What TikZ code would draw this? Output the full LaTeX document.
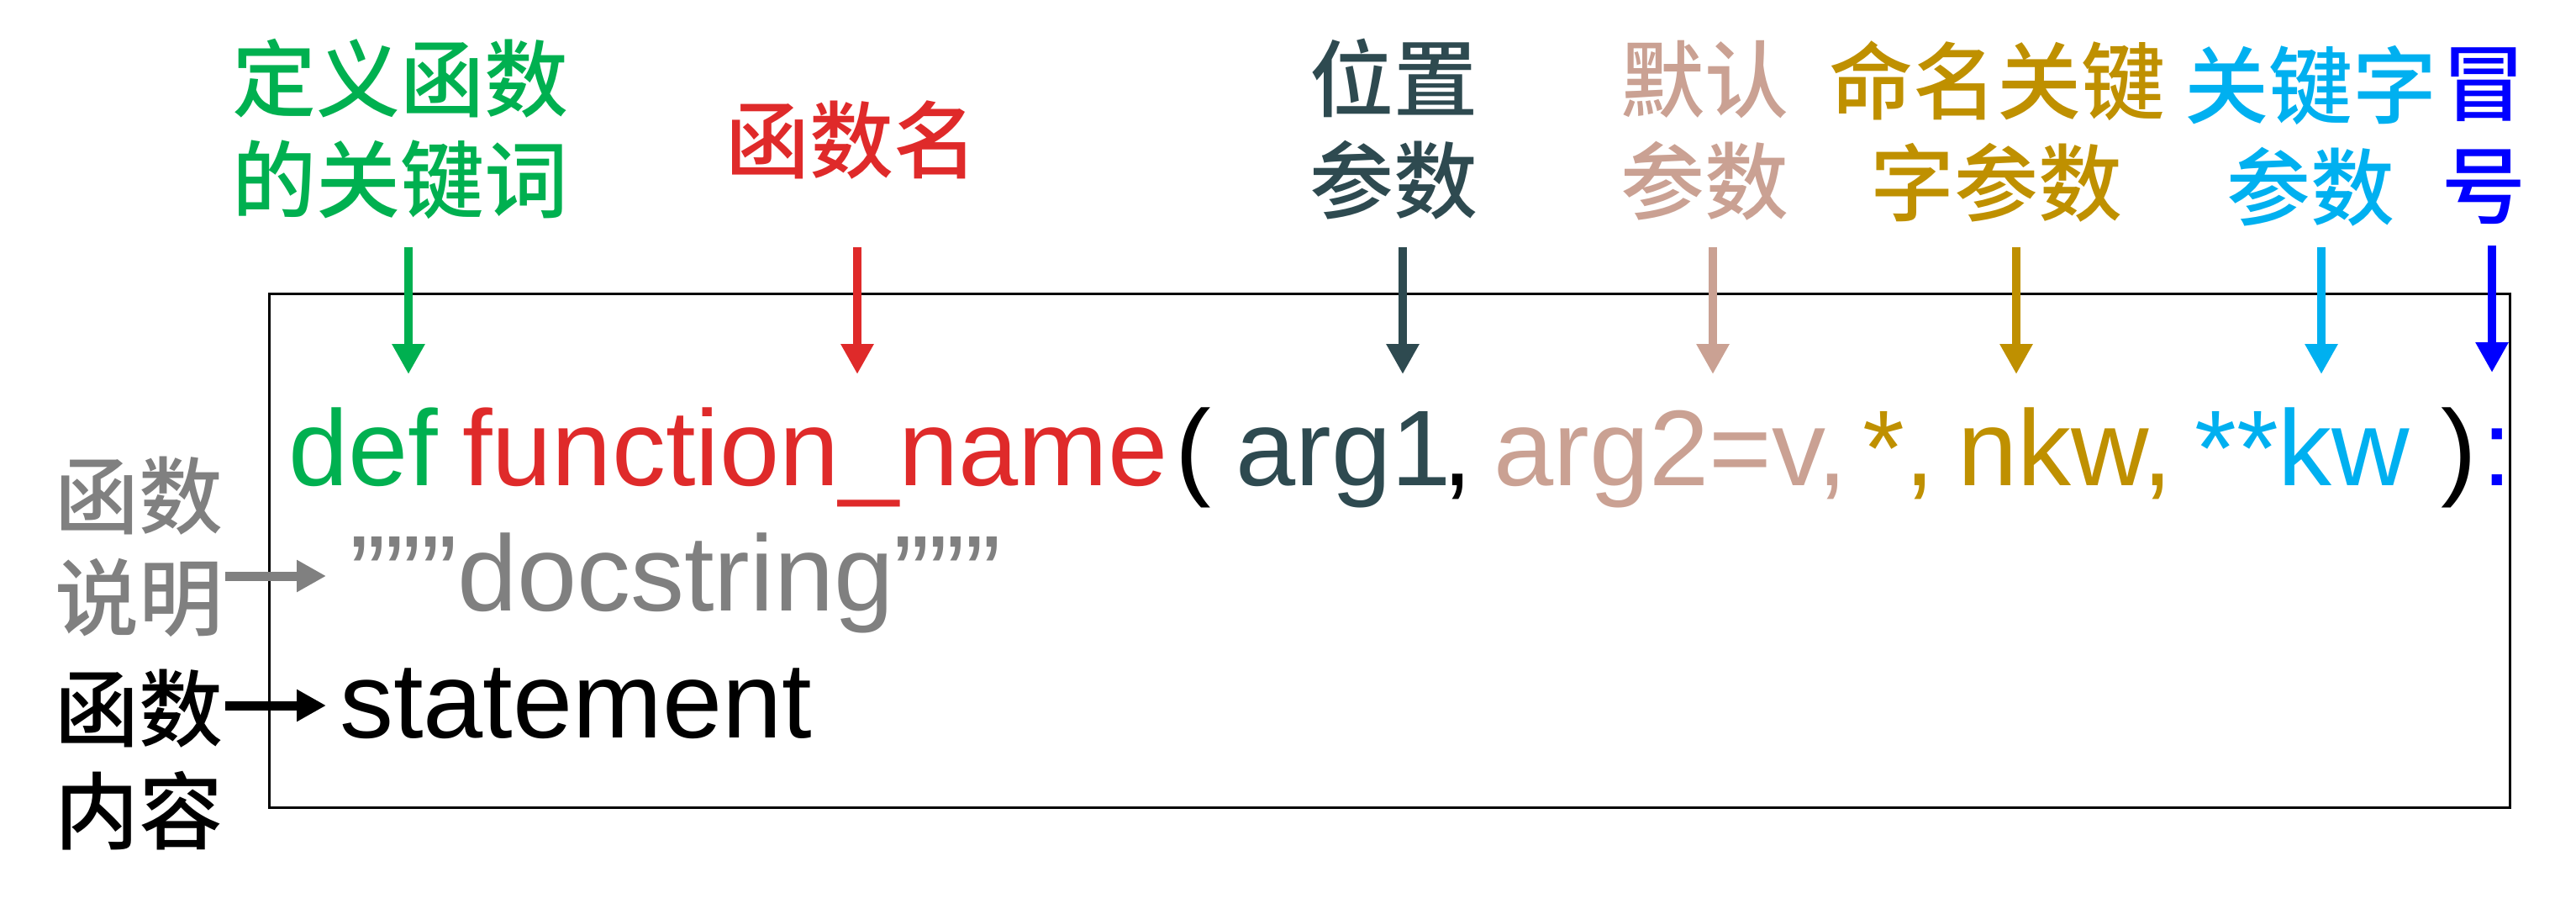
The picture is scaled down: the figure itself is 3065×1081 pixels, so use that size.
\documentclass[tikz,border=0pt]{standalone}
\usepackage{fontspec}
\setmainfont{Liberation Sans}
\newfontfamily\cjk{Noto Sans CJK SC Medium}
\usetikzlibrary{arrows.meta}
\definecolor{cgreen}{HTML}{00B050}
\definecolor{cred}{HTML}{DF2A2A}
\definecolor{cslate}{HTML}{2E4A50}
\definecolor{crosy}{HTML}{CAA193}
\definecolor{cgold}{HTML}{BF9000}
\definecolor{csky}{HTML}{00B0F0}
\definecolor{cblue}{HTML}{0000FF}
\definecolor{cgray}{HTML}{808080}
\tikzset{
  code/.style={anchor=base west, inner sep=0pt, font=\fontsize{128}{150}\selectfont},
  lab/.style={inner sep=0pt, font=\fontsize{100}{120}\selectfont\cjk},
  varr/.style={line width=10pt, -{Triangle[length=36pt,width=37pt]}},
  harr/.style={line width=11pt, -{Triangle[length=35pt,width=36pt]}},
  frame/.style={draw=black, line width=3pt, inner sep=0pt, anchor=north west}
}
\begin{document}
\begin{tikzpicture}[x=1pt,y=-1pt]
\useasboundingbox (0,0) rectangle (3065,1081);
% frame
\node[frame, minimum width=2666pt, minimum height=611pt] (box) at (319,348) {};
% top labels
\node[lab, text=cgreen] (kwA) at (476,93) {定义函数};
\node[lab, text=cgreen] (kwB) at (476,214) {的关键词};
\node[lab, text=cred] (fn) at (1013,166) {函数名};
\node[lab, text=cslate] (posA) at (1658,93) {位置};
\node[lab, text=cslate] (posB) at (1658,214) {参数};
\node[lab, text=crosy] (defA) at (2028,95) {默认};
\node[lab, text=crosy] (defB) at (2028,215) {参数};
\node[lab, text=cgold] (nkA) at (2376,96) {命名关键};
\node[lab, text=cgold] (nkB) at (2375,217) {字参数};
\node[lab, text=csky] (kwsA) at (2749,101) {关键字};
\node[lab, text=csky] (kwsB) at (2749,222) {参数};
\node[lab, text=cblue] (colA) at (2955,101) {冒};
\node[lab, text=cblue] (colB) at (2955,222) {号};
% left labels
\node[lab, text=cgray] (docA) at (165,590) {函数};
\node[lab, text=cgray] (docB) at (165,711) {说明};
\node[lab, text=black] (stA) at (165,843) {函数};
\node[lab, text=black] (stB) at (165,964) {内容};
% code line
\node[code, text=cgreen] (cdef) at (343,577) {def};
\node[code, text=cred] (cfn) at (550,577) {function\_name};
\node[code, text=black] (cpo) at (1398,577) {(};
\node[code, text=cslate] (carg1) at (1470,577) {arg1};
\node[code, text=black] (ccm) at (1716,577) {,};
\node[code, text=crosy] (carg2) at (1777,577) {arg2=v,};
\node[code, text=cgold] (cstar) at (2216,577) {*,};
\node[code, text=cgold] (cnkw) at (2329,577) {nkw,};
\node[code, text=csky] (ckw) at (2611,577) {**kw};
\node[code, text=black] (cpc) at (2904,577) {)};
\node[code, text=cblue] (ccol) at (2953,577) {:};
\node[code, text=cgray] (cdoc) at (416,726) {\symbol{34}\symbol{34}\symbol{34}docstring\symbol{34}\symbol{34}\symbol{34}};
\node[code, text=black] (cst) at (404,877) {statement};
% arrow coordinates
\coordinate (s1) at (486,294); \coordinate (e1) at (486,445);
\coordinate (s2) at (1020,294); \coordinate (e2) at (1020,445);
\coordinate (s3) at (1669,294); \coordinate (e3) at (1669,445);
\coordinate (s4) at (2038,294); \coordinate (e4) at (2038,445);
\coordinate (s5) at (2399,294); \coordinate (e5) at (2399,445);
\coordinate (s6) at (2762,294); \coordinate (e6) at (2762,445);
\coordinate (s7) at (2965,292); \coordinate (e7) at (2965,443);
\coordinate (s8) at (268,685); \coordinate (e8) at (388,685);
\coordinate (s9) at (268,839); \coordinate (e9) at (388,839);
\draw[varr, cgreen] (s1) -- (e1);
\draw[varr, cred] (s2) -- (e2);
\draw[varr, cslate] (s3) -- (e3);
\draw[varr, crosy] (s4) -- (e4);
\draw[varr, cgold] (s5) -- (e5);
\draw[varr, csky] (s6) -- (e6);
\draw[varr, cblue] (s7) -- (e7);
\draw[harr, cgray] (s8) -- (e8);
\draw[harr, black] (s9) -- (e9);
\end{tikzpicture}
\end{document}
